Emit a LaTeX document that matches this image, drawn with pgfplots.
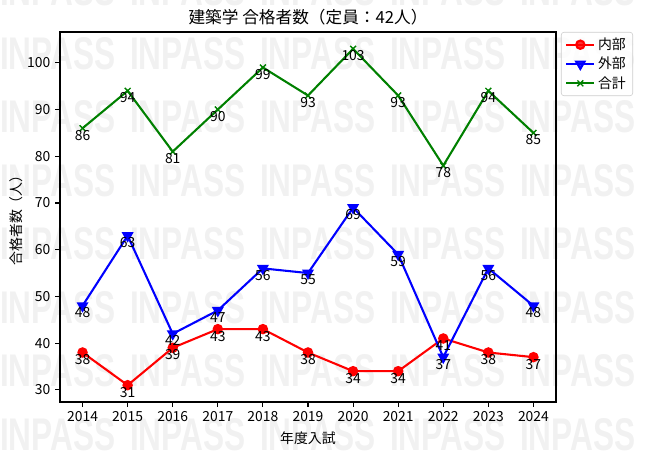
\documentclass[border=0pt]{standalone}
\usepackage{fontspec}
\setmainfont{Noto Sans CJK JP}
\newfontfamily\wmfont{Liberation Sans}
\usepackage{pgfplots}
\pgfplotsset{compat=1.18}
\definecolor{mplgreen}{RGB}{0,128,0}
\definecolor{wm}{RGB}{241,241,241}
\begin{document}
\begin{tikzpicture}
\begin{scope}[x=0.72pt,y=-0.72pt]
\foreach \r in {-10,53.5,117,180.5,244,307.5,371,434.5} {
  \foreach \c in {0,130,260,390,520,650} {
    \node[anchor=west, inner sep=0pt, text=wm, font=\wmfont\bfseries\fontsize{33}{33}\selectfont, xscale=0.69] at (\c,\r) {INPASS};
  }
}
\end{scope}
\begin{axis}[
  at={(43.2pt,-289.44pt)}, anchor=south west,
  scale only axis, width=357.12pt, height=266.4pt,
  xmin=2013.5, xmax=2024.5, ymin=27.4, ymax=106.6,
  xtick={2014,2015,2016,2017,2018,2019,2020,2021,2022,2023,2024},
  ytick={30,40,50,60,70,80,90,100},
  x tick label style={/pgf/number format/1000 sep={}},
  /pgf/number format/assume math mode=true,
  tick align=outside, major tick length=3.5pt,
  tick style={black, line width=0.8pt},
  axis line style={line width=0.8pt},
  xtick pos=bottom, ytick pos=left,
  tick label style={font=\fontsize{10}{12}\selectfont},
  label style={font=\fontsize{10}{12}\selectfont},
  title={建築学 合格者数（定員：42人）},
  title style={font=\fontsize{12}{14}\selectfont, yshift=-4.3pt},
  xlabel={年度入試}, ylabel={合格者数（人）},
  ylabel style={yshift=-3.6pt},
  legend cell align=left,
  legend style={at={(1.01,1)}, anchor=north west, draw=black!20, fill=white, fill opacity=0.8, text opacity=1, rounded corners=2pt, font=\fontsize{10}{12}\selectfont},
  legend image code/.code={\draw[mark repeat=2,mark phase=2] plot coordinates {(0pt,0pt) (10pt,0pt) (20pt,0pt)};},
  every node near coord/.append style={anchor=center, yshift=-5pt, text=black, font=\fontsize{10}{12}\selectfont},
]
\addplot[red, line width=1.5pt, mark=*, mark size=3pt, nodes near coords] coordinates {
(2014,38) (2015,31) (2016,39) (2017,43) (2018,43) (2019,38) (2020,34) (2021,34) (2022,41) (2023,38) (2024,37)};
\addlegendentry{内部}
\addplot[blue, line width=1.5pt, mark=triangle*, mark size=3.5pt, mark options={rotate=180}, nodes near coords] coordinates {
(2014,48) (2015,63) (2016,42) (2017,47) (2018,56) (2019,55) (2020,69) (2021,59) (2022,37) (2023,56) (2024,48)};
\addlegendentry{外部}
\addplot[mplgreen, line width=1.5pt, mark=x, mark size=3pt, mark options={line width=1pt}, nodes near coords] coordinates {
(2014,86) (2015,94) (2016,81) (2017,90) (2018,99) (2019,93) (2020,103) (2021,93) (2022,78) (2023,94) (2024,85)};
\addlegendentry{合計}
\end{axis}
\pgfresetboundingbox
\path[use as bounding box] (0pt,0pt) rectangle (466.56pt,-326.16pt);
\end{tikzpicture}
\end{document}
